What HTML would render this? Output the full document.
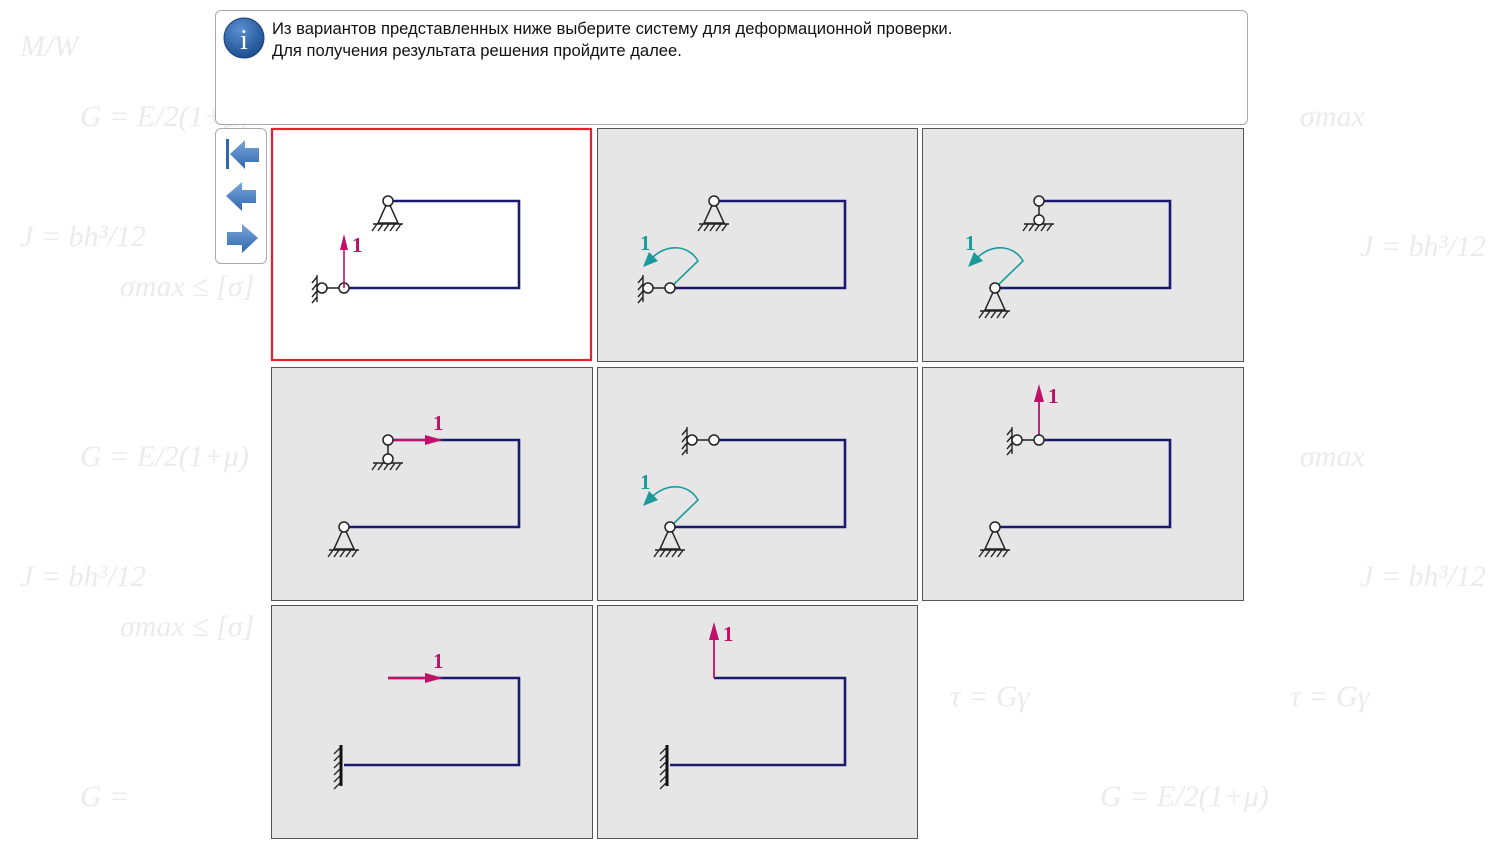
<!DOCTYPE html>
<html><head><meta charset="utf-8">
<style>
html,body{margin:0;padding:0;width:1504px;height:846px;overflow:hidden;background:#fff;font-family:"Liberation Sans",sans-serif;}
.wm{position:absolute;color:#ebebeb;font-family:"Liberation Serif",serif;font-style:italic;font-size:30px;}
#info{position:absolute;left:215px;top:10px;width:1031px;height:113px;border:1px solid #a8a8a8;border-radius:6px;background:#fff;}
#info .t{position:absolute;left:56px;top:7px;font-size:16.6px;line-height:22px;color:#111;}
#nav{position:absolute;left:215px;top:128px;width:50px;height:134px;border:1px solid #a8a8a8;border-radius:6px;background:#fff;}
</style></head><body>
<div class="wm" style="left:20px;top:30px">M/W</div>
<div class="wm" style="left:80px;top:100px">G = E/2(1+μ)</div>
<div class="wm" style="left:20px;top:220px">J = bh³/12</div>
<div class="wm" style="left:120px;top:270px">σmax ≤ [σ]</div>
<div class="wm" style="left:80px;top:440px">G = E/2(1+μ)</div>
<div class="wm" style="left:20px;top:560px">J = bh³/12</div>
<div class="wm" style="left:120px;top:610px">σmax ≤ [σ]</div>
<div class="wm" style="left:80px;top:780px">G =</div>
<div class="wm" style="left:1300px;top:100px">σmax</div>
<div class="wm" style="left:1360px;top:230px">J = bh³/12</div>
<div class="wm" style="left:1300px;top:440px">σmax</div>
<div class="wm" style="left:1360px;top:560px">J = bh³/12</div>
<div class="wm" style="left:1290px;top:680px">τ = Gγ</div>
<div class="wm" style="left:1100px;top:780px">G = E/2(1+μ)</div>
<div class="wm" style="left:950px;top:680px">τ = Gγ</div>

<div id="info">
<svg width="44" height="44" style="position:absolute;left:6px;top:5px" viewBox="0 0 44 44">
<defs><radialGradient id="ig" cx="40%" cy="30%" r="70%"><stop offset="0" stop-color="#5b8fd0"/><stop offset="1" stop-color="#1c4f93"/></radialGradient></defs>
<circle cx="22" cy="22" r="20" fill="url(#ig)" stroke="#1a3f77"/>
<text x="22" y="33" text-anchor="middle" font-family="Liberation Serif,serif" font-size="28" fill="#fff">i</text>
</svg>
<div class="t">Из вариантов представленных ниже выберите систему для деформационной проверки.<br>Для получения результата решения пройдите далее.</div>
</div>
<div id="nav">
<svg width="50" height="134" viewBox="0 0 50 134">
<defs><linearGradient id="ag" x1="0" y1="0" x2="0" y2="1"><stop offset="0" stop-color="#7aa6da"/><stop offset="1" stop-color="#2f67ad"/></linearGradient></defs>
<rect x="10" y="10" width="3" height="30" fill="#2f67ad"/>
<polygon points="14,25 29,11 29,19 43,19 43,33 29,33 29,40" fill="url(#ag)"/>
<polygon points="10,67 26,53 26,61 40,61 40,74 26,74 26,82" fill="url(#ag)"/>
<polygon points="42,109 26,95 26,103 11,103 11,116 26,116 26,124" fill="url(#ag)"/>
</svg>
</div>

<svg width="1504" height="846" style="position:absolute;left:0;top:0" viewBox="0 0 1504 846">
<defs>
<g id="frame"><path d="M117,73 H248 V160 H73" fill="none" stroke="#1a1a6e" stroke-width="2.6"/></g>
<g id="hatch"><path d="M-15,0 H15 M-11,0 l-5,7 M-5,0 l-5,7 M1,0 l-5,7 M7,0 l-5,7 M13,0 l-5,7" stroke="#222" stroke-width="1.4" fill="none"/></g>
<g id="pin"><path d="M0,0 L-10,22 L10,22 Z" fill="none" stroke="#222" stroke-width="1.5"/><use href="#hatch" y="23"/><circle r="5" fill="#fff" stroke="#222" stroke-width="1.5"/></g>
<g id="vrod"><line x1="0" y1="0" x2="0" y2="19" stroke="#222" stroke-width="1.5"/><use href="#hatch" y="23"/><circle cy="19" r="5" fill="#fff" stroke="#222" stroke-width="1.5"/><circle r="5" fill="#fff" stroke="#222" stroke-width="1.5"/></g>
<g id="hrod"><line x1="0" y1="0" x2="-22" y2="0" stroke="#222" stroke-width="1.5"/><path d="M-27,-13 V14 M-27,-11 l-5,6 M-27,-4 l-5,6 M-27,3 l-5,6 M-27,9 l-5,6" stroke="#222" stroke-width="1.4"/><circle cx="-22" r="5" fill="#fff" stroke="#222" stroke-width="1.5"/><circle r="5" fill="#fff" stroke="#222" stroke-width="1.5"/></g>
<g id="fixed"><path d="M70,140 V181" stroke="#111" stroke-width="3"/><path d="M69,143 l-6,6 M69,150 l-6,6 M69,157 l-6,6 M69,164 l-6,6 M69,171 l-6,6 M69,178 l-6,6" stroke="#222" stroke-width="1.3"/></g>
<g id="moment"><path d="M73,160 L101,133 C92,117 70,115 55,130" fill="none" stroke="#1a9a9a" stroke-width="1.6"/><polygon points="46,139 52,124 61,133" fill="#1a9a9a"/><text x="43" y="122" font-family="Liberation Serif,serif" font-weight="bold" font-size="21" fill="#1a9a9a">1</text></g>
<g id="uparrow"><line x1="117" y1="73" x2="117" y2="30" stroke="#c0106a" stroke-width="1.8"/><polygon points="117,17 112,35 122,35" fill="#c0106a"/><text x="126" y="36" font-family="Liberation Serif,serif" font-weight="bold" font-size="21" fill="#c0106a">1</text></g>
<g id="rarrow"><line x1="117" y1="73" x2="160" y2="73" stroke="#c0106a" stroke-width="2.2"/><polygon points="172,73 154,68 154,78" fill="#c0106a"/><text x="162" y="63" font-family="Liberation Serif,serif" font-weight="bold" font-size="21" fill="#c0106a">1</text></g>
</defs>

<g stroke="#555" stroke-width="1" fill="#e6e6e6">
<rect x="597.5" y="128.5" width="320" height="233"/><rect x="922.5" y="128.5" width="321" height="233"/>
<rect x="271.5" y="367.5" width="321" height="233"/><rect x="597.5" y="367.5" width="320" height="233"/><rect x="922.5" y="367.5" width="321" height="233"/>
<rect x="271.5" y="605.5" width="321" height="233"/><rect x="597.5" y="605.5" width="320" height="233"/>
</g>
<rect x="272" y="129" width="319" height="231" fill="#fff" stroke="#e8202a" stroke-width="2.2"/>

<g transform="translate(271,128)"><use href="#frame"/><use href="#pin" x="117" y="73"/><use href="#hrod" x="73" y="160"/>
<line x1="73" y1="160" x2="73" y2="120" stroke="#c0106a" stroke-width="1.6"/><polygon points="73,106 69,122 77,122" fill="#c0106a"/><text x="81" y="124" font-family="Liberation Serif,serif" font-weight="bold" font-size="21" fill="#c0106a">1</text></g>
<g transform="translate(597,128)"><use href="#frame"/><use href="#pin" x="117" y="73"/><use href="#moment"/><use href="#hrod" x="73" y="160"/></g>
<g transform="translate(922,128)"><use href="#frame"/><use href="#vrod" x="117" y="73"/><use href="#moment"/><use href="#pin" x="73" y="160"/></g>
<g transform="translate(271,367)"><use href="#frame"/><use href="#rarrow"/><use href="#vrod" x="117" y="73"/><use href="#pin" x="73" y="160"/></g>
<g transform="translate(597,367)"><use href="#frame"/><use href="#hrod" x="117" y="73"/><use href="#moment"/><use href="#pin" x="73" y="160"/></g>
<g transform="translate(922,367)"><use href="#frame"/><use href="#uparrow"/><use href="#hrod" x="117" y="73"/><use href="#pin" x="73" y="160"/></g>
<g transform="translate(271,605)"><use href="#frame"/><use href="#rarrow"/><use href="#fixed"/></g>
<g transform="translate(597,605)"><use href="#frame"/><use href="#uparrow"/><use href="#fixed"/></g>
</svg>
</body></html>
